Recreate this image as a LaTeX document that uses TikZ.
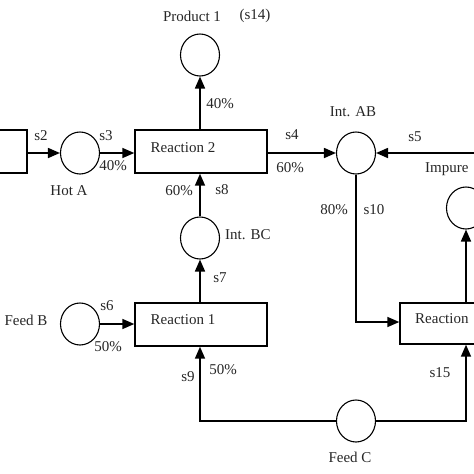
\documentclass[tikz,border=0pt]{standalone}
\usepackage{fontspec}
\setmainfont{Liberation Serif}
\usetikzlibrary{arrows.meta,shapes.geometric}
\begin{document}
\begin{tikzpicture}[x=1pt,y=-1pt,
  font=\fontsize{15}{17}\selectfont,
  boxnode/.style={draw,line width=1.4pt,rectangle,inner sep=0pt},
  place/.style={draw,line width=1.1pt,ellipse,minimum width=39pt,minimum height=42pt,inner sep=0pt},
  flow/.style={line width=1.7pt,-{Triangle[length=12pt,width=10pt]}},
  lbl/.style={inner sep=0pt,text=black!85}]
\useasboundingbox (0,0) rectangle (474,474);
% boxes
\node[boxnode,minimum width=50pt,minimum height=43pt] (src) at (2,151.5) {};
\node[boxnode,minimum width=132pt,minimum height=43pt] (r2) at (201,151.5) {};
\node[boxnode,minimum width=132pt,minimum height=43pt] (r1) at (201,324.5) {};
\node[boxnode,minimum width=120pt,minimum height=41pt] (r3) at (460,323.5) {};
% places
\node[place] (hotA) at (80,153) {};
\node[place] (p1) at (200,55) {};
\node[place] (intAB) at (356,153) {};
\node[place] (intBC) at (200,238) {};
\node[place] (feedB) at (80,324) {};
\node[place] (feedC) at (356,421) {};
\node[place] (impure) at (466,208) {};
% helper coordinates
\coordinate (edgeR) at (480,153);
\coordinate (c10) at (356,322);
\coordinate (c9) at (200,421);
\coordinate (c15) at (466,421);
% connectors
\draw[flow] (src.east |- hotA) -- (hotA.west);
\draw[flow] (hotA.east) -- (r2.west |- hotA);
\draw[flow] (r2.north -| p1) -- (p1.south);
\draw[flow] (intBC.north) -- (r2.south -| intBC);
\draw[flow] (r1.north -| intBC) -- (intBC.south);
\draw[flow] (r2.east |- intAB) -- (intAB.west);
\draw[flow] (edgeR) -- (intAB.east);
\draw[flow] (intAB.south) -- (c10) -- (r3.west |- c10);
\draw[flow] (feedB.east) -- (r1.west |- feedB);
\draw[flow] (feedC.west) -- (c9) -- (r1.south -| c9);
\draw[flow] (feedC.east) -- (c15) -- (r3.south -| c15);
\draw[flow] (r3.north -| impure) -- (impure.south);
% labels
\node[lbl] (tp1) at (192,16) {Product 1};
\node[lbl] (ts14) at (255,16) {(s14)};
\node[lbl] (ts2) at (41,136) {s2};
\node[lbl] (ts3) at (106,136) {s3};
\node[lbl] (t40a) at (113,166) {40\%};
\node[lbl] (thot) at (69,191) {Hot A};
\node[lbl] (t40b) at (220,104) {40\%};
\node[lbl] (tr2) at (183,148) {Reaction 2};
\node[lbl] (t60a) at (179,191) {60\%};
\node[lbl] (ts8) at (222,190) {s8};
\node[lbl] (tab) at (353,112) {Int. AB};
\node[lbl] (ts4) at (292,135) {s4};
\node[lbl] (t60b) at (290,168) {60\%};
\node[lbl] (ts5) at (415,137) {s5};
\node[lbl,anchor=west] (timp) at (425,169) {Impure};
\node[lbl] (t80) at (334,210) {80\%};
\node[lbl] (ts10) at (374,210) {s10};
\node[lbl,anchor=west] (tbc) at (225,235) {Int. BC};
\node[lbl] (ts7) at (220,278) {s7};
\node[lbl] (tr1) at (183,320) {Reaction 1};
\node[lbl] (tfb) at (26,320) {Feed B};
\node[lbl] (ts6) at (107,306) {s6};
\node[lbl] (t50a) at (108,347) {50\%};
\node[lbl] (ts9) at (188,377) {s9};
\node[lbl] (t50b) at (223,370) {50\%};
\node[lbl,anchor=west] (tr3) at (415,319) {Reaction};
\node[lbl] (ts15) at (440,373) {s15};
\node[lbl] (tfc) at (350,457) {Feed C};
\end{tikzpicture}
\end{document}
